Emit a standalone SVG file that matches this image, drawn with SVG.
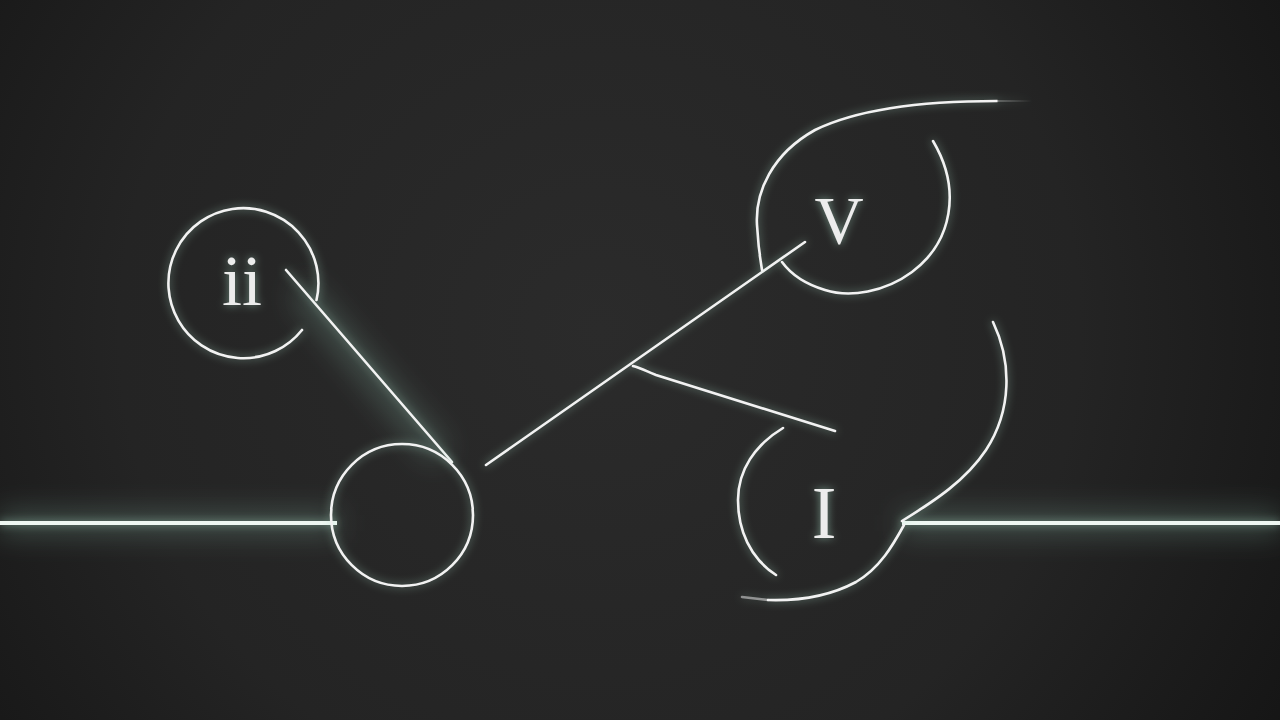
<svg xmlns="http://www.w3.org/2000/svg" width="1280" height="720" viewBox="0 0 1280 720">
<defs>
<radialGradient id="bg" cx="600" cy="330" r="800" gradientUnits="userSpaceOnUse">
<stop offset="0" stop-color="#2b2b2b"/>
<stop offset="0.6" stop-color="#242424"/>
<stop offset="1" stop-color="#151515"/>
</radialGradient>
<linearGradient id="fadeii" gradientUnits="userSpaceOnUse" x1="286" y1="270" x2="330" y2="320">
<stop offset="0" stop-color="#f2f2f2" stop-opacity="0"/>
<stop offset="1" stop-color="#f2f2f2" stop-opacity="1"/>
</linearGradient>
<linearGradient id="fadeTop" gradientUnits="userSpaceOnUse" x1="997" y1="0" x2="1032" y2="0">
<stop offset="0" stop-color="#888888" stop-opacity="0.6"/>
<stop offset="1" stop-color="#888888" stop-opacity="0"/>
</linearGradient>
<filter id="glow" x="-20%" y="-20%" width="140%" height="140%">
<feGaussianBlur in="SourceAlpha" stdDeviation="4" result="b"/>
<feFlood flood-color="#a9dcc6" flood-opacity="0.6"/>
<feComposite in2="b" operator="in" result="g"/>
<feMerge><feMergeNode in="g"/><feMergeNode in="SourceGraphic"/></feMerge>
</filter>
<filter id="wide" x="-50%" y="-50%" width="200%" height="200%">
<feGaussianBlur stdDeviation="14"/>
</filter>
<style>
.ln{fill:none;stroke:#f2f2f2;stroke-width:2.6;stroke-linecap:round}
.hz{fill:none;stroke:#eef7f2;stroke-width:4}
.haze{fill:none;stroke:#7fa898;stroke-opacity:0.35;stroke-width:22}
.lbl{font-family:"Liberation Serif","Times New Roman",serif;fill:#ececec;text-anchor:middle}
</style>
</defs>
<rect width="1280" height="720" fill="url(#bg)"/>
<g id="haze" filter="url(#wide)">
<path class="haze" d="M0,523 L337,523"/>
<path class="haze" d="M902,523 L1280,523"/>
<path class="haze" d="M300,290 L440,455" stroke-width="40" stroke-opacity="0.18"/>
</g>
<g id="connectors" filter="url(#glow)">
<path class="hz" d="M0,523 L337,523"/>
<path class="hz" d="M902,523 L1280,523"/>
<path class="ln" d="M286,270 L452,462" stroke="url(#fadeii)"/>
<path class="ln" d="M486,465 L805,242"/>
<path class="ln" d="M633,366 C641,368 648,372 656,375 L835,431"/>
</g>
<g id="node-ii" filter="url(#glow)">
<path class="ln" d="M302,330 A75,75 0 1 1 316.5,300"/>
<text class="lbl" x="242" y="305" font-size="72">ii</text>
</g>
<g id="node-junction" filter="url(#glow)">
<circle class="ln" cx="402" cy="515" r="71"/>
</g>
<g id="node-V" filter="url(#glow)">
<path class="ln" d="M997,101 C930,101 860,108 815,130 C772,154 755,192 757,225 C758,245 760,258 762,270"/>
<path d="M997,101 L1032,101" fill="none" stroke="url(#fadeTop)" stroke-width="2"/>
<path class="ln" d="M933,141 C962,190 952,242 912,272 C885,292 850,298 825,290 C805,284 790,273 782,262"/>
<text class="lbl" x="839" y="243" font-size="68">V</text>
</g>
<g id="node-I" filter="url(#glow)">
<path class="ln" d="M993,322 C1012,362 1012,410 986,450 C966,480 936,500 902,521"/>
<path class="ln" d="M904,525 C893,545 880,568 856,582 C830,596 800,601 768,600"/>
<path class="ln" d="M768,600 L742,597" stroke-opacity="0.5" stroke-width="2"/>
<path class="ln" d="M783,428 C755,445 738,470 738,500 C738,530 750,558 776,575"/>
<text class="lbl" x="824" y="538" font-size="74">I</text>
</g>
</svg>
